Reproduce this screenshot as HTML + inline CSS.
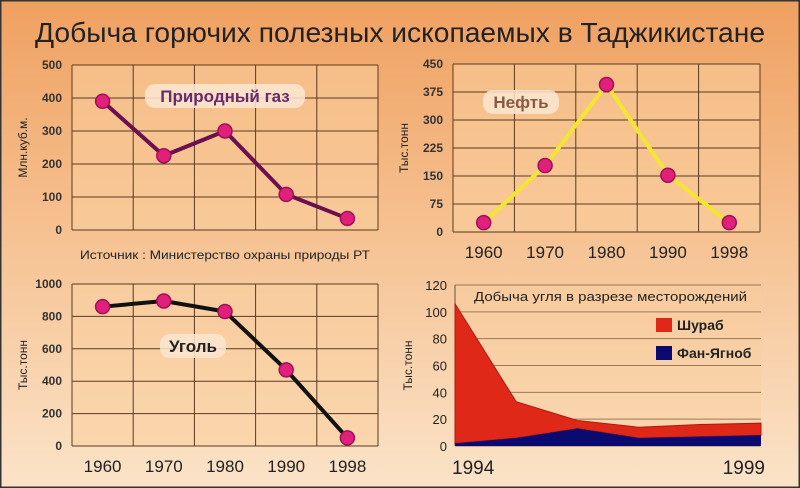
<!DOCTYPE html>
<html><head><meta charset="utf-8"><style>
body{margin:0;width:800px;height:488px;overflow:hidden;font-family:"Liberation Sans",sans-serif}
svg{display:block}
text{font-family:"Liberation Sans",sans-serif}
</style></head><body>
<svg id="s" width="800" height="488" xmlns="http://www.w3.org/2000/svg">
<defs>
<linearGradient id="bg" x1="0" y1="0" x2="0" y2="1">
<stop offset="0" stop-color="#efa060"/><stop offset="0.5" stop-color="#f6c394"/><stop offset="1" stop-color="#fbe3c8"/>
</linearGradient>
</defs>
<rect width="800" height="488" fill="url(#bg)"/>
<rect x="0.5" y="0.5" width="799" height="487" fill="none" stroke="#333" stroke-width="2"/>
<text x="35" y="42" font-size="28" fill="#222" textLength="730" lengthAdjust="spacingAndGlyphs">Добыча горючих полезных ископаемых в Таджикистане</text>
<text x="80" y="259" font-size="12" fill="#222" textLength="290" lengthAdjust="spacingAndGlyphs">Источник : Министерство охраны природы РТ</text>
<g id="g"></g>
</svg>
<script>
const years=["1960","1970","1980","1990","1998"];
const gasValues=[390,225,300,108,35];
const gasTicks=[0,100,200,300,400,500];
const oilValues=[25,178,395,152,25];
const oilTicks=[0,75,150,225,300,375,450];
const coalValues=[860,895,830,470,50];
const coalTicks=[0,200,400,600,800,1000];
const mineYears=["1994","1995","1996","1997","1998","1999"];
const fanValues=[2,6,13,6,7,8];
const shurabValues=[104,27,6,8,9,9];
const mineTicks=[0,20,40,60,80,100,120];

const NS="http://www.w3.org/2000/svg";
const G=document.getElementById('g');
function mk(tag,attrs,parent,txt){const e=document.createElementNS(NS,tag);for(const k in attrs)e.setAttribute(k,attrs[k]);if(txt!==undefined)e.textContent=txt;(parent||G).appendChild(e);return e;}

function lineChart(cfg){
  const g=mk('g',{});
  
  
  const max=cfg.ticks[cfg.ticks.length-1];
  const y=v=>cfg.y0-(v/max)*(cfg.y0-cfg.y1);
  const n=cfg.values.length;
  const cw=(cfg.x1-cfg.x0)/n;
  const x=i=>cfg.x0+cw*(i+0.5);
  mk('rect',{x:cfg.x0,y:cfg.y1,width:cfg.x1-cfg.x0,height:cfg.y0-cfg.y1,fill:'#f9cf9e',opacity:0.55},g);
  cfg.ticks.forEach(t=>{
    const l=mk('line',{x1:cfg.x0,x2:cfg.x1,y1:y(t),y2:y(t),stroke:'#5a3a20','stroke-width':1},g);
    
    
    const tx=mk('text',{x:cfg.x0-10,y:y(t)+4,'font-size':12,'font-weight':'bold','text-anchor':'end',fill:'#333'},g,t);
    
    
  });
  for(let i=0;i<=n;i++){
    const l=mk('line',{x1:cfg.x0+cw*i,x2:cfg.x0+cw*i,y1:cfg.y1,y2:cfg.y0,stroke:'#5a3a20','stroke-width':1},g);
    
    
  }
  if(cfg.xlabels){cfg.labels.forEach((lb,i)=>{
    const t=mk('text',{x:x(i),y:cfg.y0+26,'font-size':17,'text-anchor':'middle',fill:'#222'},g,lb);
    
    
  });}
  const yt=mk('text',{x:0,y:0,'font-size':12,'text-anchor':'middle',fill:'#222',transform:`translate(${cfg.x0-45},${(cfg.y0+cfg.y1)/2}) rotate(-90)`},g,cfg.ytitle);
  
  
  const pl=mk('polyline',{points:cfg.values.map((v,i)=>x(i)+','+y(v)).join(' '),fill:'none',stroke:cfg.color,'stroke-width':4},g);
  
  
  cfg.values.forEach((v,i)=>{
    const c=mk('circle',{cx:x(i),cy:y(v),r:7,fill:'#e0207a',stroke:'#a0105a','stroke-width':1.5},g);
    
    
  });
  const lb=mk('rect',{x:cfg.lx-cfg.lw/2,y:cfg.ly-16,width:cfg.lw,height:24,rx:10,fill:'#fbe6d2',opacity:0.85},g);
  
  
  const lt=mk('text',{x:cfg.lx,y:cfg.ly+2,'font-size':17,'font-weight':'bold','text-anchor':'middle',fill:cfg.lcolor},g,cfg.title);
  
  
}
lineChart({name:'gas-chart',values:gasValues,ticks:gasTicks,labels:years,x0:72,x1:378,y0:230,y1:65,color:'#6a1050',ytitle:'Млн.куб.м.',title:'Природный газ',lx:225,ly:100,lw:160,lcolor:'#6a2a6a',xlabels:false});
lineChart({name:'oil-chart',values:oilValues,ticks:oilTicks,labels:years,x0:453,x1:760,y0:232,y1:64,color:'#f4e630',ytitle:'Тыс.тонн',title:'Нефть',lx:521,ly:106,lw:76,lcolor:'#8a5a40',xlabels:true});
lineChart({name:'coal-chart',values:coalValues,ticks:coalTicks,labels:years,x0:72,x1:378,y0:446,y1:284,color:'#111',ytitle:'Тыс.тонн',title:'Уголь',lx:193,ly:350,lw:66,lcolor:'#222',xlabels:true});

(function(){
  const g=mk('g',{});
  
  
  const x0=455,x1=761,y0=446,y1=285,max=120;
  const y=v=>y0-v/max*(y0-y1);
  const x=i=>x0+(x1-x0)*i/(mineYears.length-1);
  mk('rect',{x:x0,y:y1,width:x1-x0,height:y0-y1,fill:'#f9cf9e',opacity:0.45},g);
  mineTicks.forEach(t=>{
    const l=mk('line',{x1:x0,x2:x1,y1:y(t),y2:y(t),stroke:'#9a7a5a','stroke-width':1},g);
    
    
    const tx=mk('text',{x:x0-8,y:y(t)+5,'font-size':13,'text-anchor':'end',fill:'#222'},g,t);
    
    
  });
  mk('line',{x1:x0,x2:x0,y1:y1,y2:y0,stroke:'#555'},g);
  const tot=fanValues.map((f,i)=>f+shurabValues[i]);
  let top=tot.map((v,i)=>x(i)+','+y(v)).join(' ');
  let mid=fanValues.map((v,i)=>x(i)+','+y(v)).reverse().join(' ');
  const a1=mk('polygon',{points:top+' '+mid,fill:'#e02818',stroke:'#b01810'},g);
  
  
  const a2=mk('polygon',{points:fanValues.map((v,i)=>x(i)+','+y(v)).join(' ')+` ${x1},${y0} ${x0},${y0}`,fill:'#0a0a70'},g);
  
  
  const t1=mk('text',{x:x0-3,y:474,'font-size':19,'text-anchor':'start',fill:'#222'},g,mineYears[0]);
  
  
  const t2=mk('text',{x:x1+4,y:474,'font-size':19,'text-anchor':'end',fill:'#222'},g,mineYears[mineYears.length-1]);
  
  
  const yt=mk('text',{x:0,y:0,'font-size':12,'text-anchor':'middle',fill:'#222',transform:`translate(412,${(y0+y1)/2}) rotate(-90)`},g,'Тыс.тонн');
  
  
  const ct=mk('text',{x:474,y:301,'font-size':13,fill:'#222',textLength:273,lengthAdjust:'spacingAndGlyphs'},g,'Добыча угля в разрезе месторождений');
  
  
  const r1=mk('rect',{x:656,y:318,width:16,height:14,fill:'#e02818'},g);
  
  
  const l1=mk('text',{x:677,y:330,'font-size':14,'font-weight':'bold',fill:'#222'},g,'Шураб');
  
  
  const r2=mk('rect',{x:656,y:346,width:16,height:14,fill:'#0a0a70'},g);
  
  
  const l2=mk('text',{x:677,y:358,'font-size':14,'font-weight':'bold',fill:'#222'},g,'Фан-Ягноб');
  
  
})();
</script>
</body></html>
